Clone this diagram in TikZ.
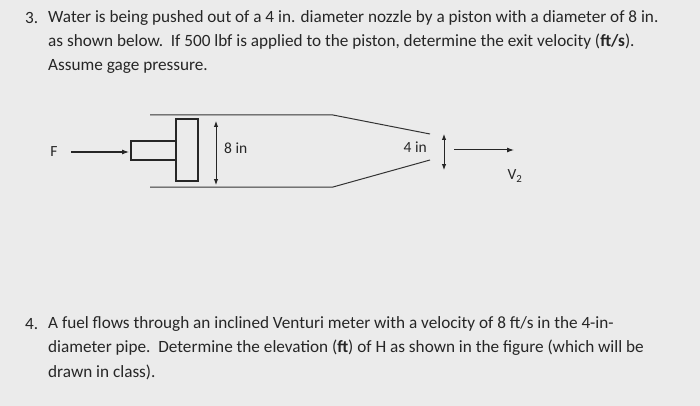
\documentclass[tikz,border=0pt]{standalone}
\usepackage{fontspec}
\usetikzlibrary{arrows.meta}
\setmainfont{Carlito}
\begin{document}
\begin{tikzpicture}[x=1pt,y=-1pt,
  txt/.style={anchor=west,inner sep=0pt,font=\fontsize{17.2}{19}\selectfont,text=black!85},
  lbl/.style={inner sep=0pt,font=\fontsize{15.5}{17}\selectfont,text=black!85},
  wall/.style={line width=1pt,black!80},
  part/.style={line width=2pt,black!85},
  arr/.style={line width=1pt,black!85,-{Latex[length=7pt,width=5pt]}},
  dim/.style={line width=0.9pt,black!85,{Latex[length=6pt,width=4.5pt]}-{Latex[length=6pt,width=4.5pt]}}]
\fill[black!8] (0,0) rectangle (700,406);
\useasboundingbox (0,0) rectangle (700,406);
% problem 3
\node[txt] (n3) at (25,18) {3.};
\node[txt] (l1) at (48,18) {Water is being pushed out of a 4 in. diameter nozzle by a piston with a diameter of 8 in.};
\node[txt] (l2) at (48,42) {as shown below.\ \ If 500 lbf is applied to the piston, determine the exit velocity (\textbf{ft/s}).};
\node[txt] (l3) at (48,66) {Assume gage pressure.};
% diagram
\coordinate (t1) at (150,115); \coordinate (t2) at (333,115); \coordinate (t3) at (430,134);
\coordinate (b1) at (150,187); \coordinate (b2) at (333,187); \coordinate (b3) at (430,160);
\draw[wall] (t1) -- (t2) -- (t3);
\draw[wall] (b1) -- (b2) -- (b3);
\draw[part] (176,119) rectangle (198,181);
\draw[part] (131,141) rectangle (176,160);
\node[lbl] (F) at (54,152) {F};
\coordinate (fa) at (71,152); \coordinate (fb) at (129,152);
\draw[arr] (fa) -- (fb);
\coordinate (d8a) at (216,121); \coordinate (d8b) at (216,185);
\draw[dim] (d8a) -- (d8b);
\node[lbl,anchor=west] (e8) at (224,148) {8 in};
\node[lbl,anchor=east] (e4) at (427,147) {4 in};
\coordinate (d4a) at (444,134); \coordinate (d4b) at (444,170);
\draw[dim] (d4a) -- (d4b);
\coordinate (va) at (454,150); \coordinate (vb) at (514,150);
\draw[arr] (va) -- (vb);
\node[lbl] (V2) at (515,176) {V\textsubscript{2}};
% problem 4
\node[txt] (n4) at (25,324) {4.};
\node[txt] (m1) at (48,324) {A fuel flows through an inclined Venturi meter with a velocity of 8 ft/s in the 4-in-};
\node[txt] (m2) at (48,348) {diameter pipe.\ \ Determine the elevation (\textbf{ft}) of H as shown in the figure (which will be};
\node[txt] (m3) at (48,372) {drawn in class).};
\end{tikzpicture}
\end{document}
